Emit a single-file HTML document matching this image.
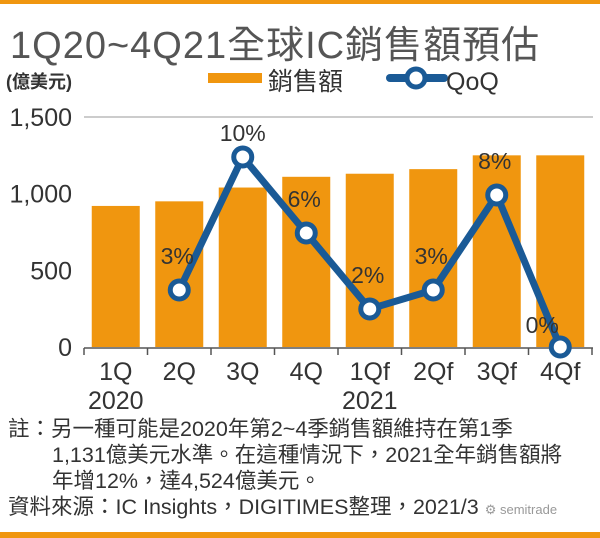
<!DOCTYPE html>
<html><head><meta charset="utf-8"><style>
body{margin:0;width:600px;height:538px;background:#fff;overflow:hidden;font-family:"Liberation Sans","Noto Sans CJK TC",sans-serif;color:#333}
#wrap{position:relative;width:600px;height:538px}
.t{position:absolute;white-space:nowrap}
</style></head><body><div id="wrap">
<div class="t" style="left:0;top:0;width:600px;height:4px;background:#f0960f"></div>
<div class="t" style="left:0;top:532px;width:600px;height:6px;background:#f0960f"></div>
<div class="t" style="left:10px;top:14px;font-size:38px;color:#555;letter-spacing:1px">1Q20~4Q21全球IC銷售額預估</div>
<div class="t" style="left:6px;top:68px;font-size:18px;font-weight:bold;color:#333">(億美元)</div>
<svg id="c" width="600" height="538" style="position:absolute;left:0;top:0"></svg>
<div class="t" style="left:8px;top:416px;font-size:21.5px;line-height:26px;color:#333">註：另一種可能是2020年第2~4季銷售額維持在第1季<br><span style="padding-left:44px">1,131億美元水準。在這種情況下，2021全年銷售額將</span><br><span style="padding-left:44px">年增12%，達4,524億美元。</span><br>資料來源：IC Insights，DIGITIMES整理，2021/3 <span style="font-size:13px;color:#999">⚙ semitrade</span></div>
</div>
<script>
const categories=["1Q","2Q","3Q","4Q","1Qf","2Qf","3Qf","4Qf"];
const sales=[920,950,1040,1110,1130,1160,1250,1250];
const qoq=[null,3,10,6,2,3,8,0];
const yTicks=[0,500,1000,1500];
const yTickLabels=["0","500","1,000","1,500"];
const NS="http://www.w3.org/2000/svg";
const svg=document.getElementById('c');
const x0=84,step=63.5,y0=347,ppu=230/1500,qpp=19;
const xc=i=>x0+step*(i+0.5);
const ys=v=>y0-v*ppu;
const yq=v=>y0-v*qpp;
function mk(t,a){const e=document.createElementNS(NS,t);for(const k in a)e.setAttribute(k,a[k]);svg.appendChild(e);return e;}
let e=mk('rect',{x:208,y:73,width:54,height:10,fill:'#f0960f'});

e=mk('text',{x:268,y:90,'font-size':25,fill:'#333'});e.textContent='銷售額';

e=mk('line',{x1:390,y1:78,x2:444,y2:78,stroke:'#1a5a96','stroke-width':8,'stroke-linecap':'round'});

e=mk('circle',{cx:416,cy:78,r:9,fill:'#fff',stroke:'#1a5a96','stroke-width':5});

e=mk('text',{x:446,y:90,'font-size':25,fill:'#333'});e.textContent='QoQ';

yTicks.forEach((v,i)=>{
 if(v===1500){const g=mk('line',{x1:x0,y1:ys(v),x2:593,y2:ys(v),stroke:'#bbb','stroke-width':1.5});
 }
 const t=mk('text',{x:72,y:ys(v)+9,'font-size':25,'text-anchor':'end',fill:'#333'});t.textContent=yTickLabels[i];
 
});
sales.forEach((v,i)=>{
 const r=mk('rect',{x:xc(i)-24,y:ys(v),width:48,height:y0-ys(v),fill:'#f0960f'});
 
});
e=mk('line',{x1:x0,y1:y0+1,x2:593,y2:y0+1,stroke:'#555','stroke-width':1.5});

for(let i=0;i<=categories.length;i++){const tk=mk('line',{x1:x0+step*i,y1:y0+1,x2:x0+step*i,y2:y0+8,stroke:'#555','stroke-width':1.5});
 }
categories.forEach((c,i)=>{
 const t=mk('text',{x:xc(i),y:y0+33,'font-size':25,'text-anchor':'middle',fill:'#333'});t.textContent=c;
 
});
[[0,'2020'],[4,'2021']].forEach(([i,s])=>{const t=mk('text',{x:xc(i),y:y0+62,'font-size':25,'text-anchor':'middle',fill:'#333'});t.textContent=s;
 });
let pts=[];qoq.forEach((v,i)=>{if(v!==null)pts.push(xc(i)+','+yq(v));});
e=mk('polyline',{points:pts.join(' '),fill:'none',stroke:'#1a5a96','stroke-width':7,'stroke-linejoin':'round'});

qoq.forEach((v,i)=>{if(v===null)return;
 const c=mk('circle',{cx:xc(i),cy:yq(v),r:9,fill:'#fff',stroke:'#1a5a96','stroke-width':5});
 
 const t=mk('text',{x:xc(i)-(v===10?0:(i===7?18:2)),y:yq(v)-(v===10?16:(i===7?14:26)),'font-size':23,'text-anchor':'middle',fill:'#333'});t.textContent=v+'%';
 
});
</script></body></html>
